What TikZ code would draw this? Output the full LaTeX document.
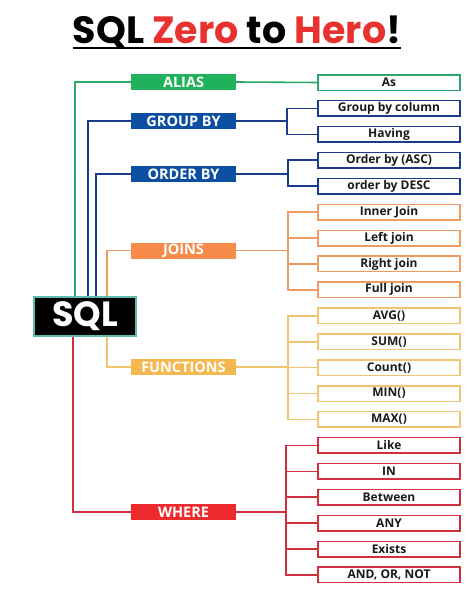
\documentclass[tikz,border=0pt]{standalone}
\usepackage{fontspec}
\newfontfamily\titlefont{Poppins}
\newfontfamily\bodyfont{Open Sans}
\definecolor{tred}{HTML}{E8322F}
\definecolor{gfill}{HTML}{1FB25A}
\definecolor{gline}{HTML}{2CA66A}
\definecolor{bfill}{HTML}{0C4EA2}
\definecolor{bline}{HTML}{1B3C8C}
\definecolor{ofill}{HTML}{F78B4A}
\definecolor{oline}{HTML}{EE9A62}
\definecolor{yfill}{HTML}{F5B84F}
\definecolor{yline}{HTML}{F2C470}
\definecolor{rfill}{HTML}{ED2B2E}
\definecolor{rline}{HTML}{D0303E}
\definecolor{sqlborder}{HTML}{5CBCB0}
\definecolor{leaftext}{HTML}{1A1A1A}
\tikzset{
  cat/.style={minimum width=105pt, minimum height=16pt, inner sep=0pt, text=white,
    font=\bodyfont\bfseries\fontsize{14.5}{14.5}\selectfont},
  leaf/.style={draw, fill=white, line width=1.5pt, minimum width=142pt, minimum height=15.5pt,
    inner sep=0pt, text=leaftext, font=\bodyfont\bfseries\fontsize{12}{12}\selectfont},
  conn/.style={line width=1.6pt},
}
\begin{document}
\begin{tikzpicture}[x=1pt,y=-1pt]
\useasboundingbox (0,0) rectangle (474,594);
% title
\node[anchor=base, inner sep=0pt, font=\titlefont\bfseries\fontsize{38}{40}\selectfont] (title) at (237,44)
  {SQL \textcolor{tred}{Zero} to \textcolor{tred}{Hero}!};
\draw[line width=1.5pt] ([yshift=-4pt]title.base west) -- ([yshift=-4pt]title.base east);
% SQL root
\node[draw=sqlborder, fill=black, line width=1.5pt, minimum width=102pt, minimum height=39pt, inner sep=0pt,
  text=white, font=\titlefont\bfseries\fontsize{35}{35}\selectfont] (sql) at (85,316.5) {SQL};
% categories
\node[cat, fill=gfill] (alias) at (183.5,82) {ALIAS};
\node[cat, fill=bfill] (grp) at (183.5,121) {GROUP BY};
\node[cat, fill=bfill] (ord) at (183.5,174) {ORDER BY};
\node[cat, fill=ofill] (joins) at (183.5,250.5) {JOINS};
\node[cat, fill=yfill] (func) at (183.5,367) {FUNCTIONS};
\node[cat, fill=rfill] (where) at (183.5,512) {WHERE};
% leaves
\def\ly#1{82.5+25.92*#1}
\node[leaf, draw=gline] (l0) at (389,{\ly{0}}) {As};
\node[leaf, draw=bline] (l1) at (389,{\ly{1}}) {Group by column};
\node[leaf, draw=bline] (l2) at (389,{\ly{2}}) {Having};
\node[leaf, draw=bline] (l3) at (389,{\ly{3}}) {Order by (ASC)};
\node[leaf, draw=bline] (l4) at (389,{\ly{4}}) {order by DESC};
\node[leaf, draw=oline] (l5) at (389,{\ly{5}}) {Inner Join};
\node[leaf, draw=oline] (l6) at (389,{\ly{6}}) {Left join};
\node[leaf, draw=oline] (l7) at (389,{\ly{7}}) {Right join};
\node[leaf, draw=oline] (l8) at (389,{\ly{8}}) {Full join};
\node[leaf, draw=yline] (l9) at (389,{\ly{9}}) {AVG()};
\node[leaf, draw=yline] (l10) at (389,{\ly{10}}) {SUM()};
\node[leaf, draw=yline] (l11) at (389,{\ly{11}}) {Count()};
\node[leaf, draw=yline] (l12) at (389,{\ly{12}}) {MIN()};
\node[leaf, draw=yline] (l13) at (389,{\ly{13}}) {MAX()};
\node[leaf, draw=rline] (l14) at (389,{\ly{14}}) {Like};
\node[leaf, draw=rline] (l15) at (389,{\ly{15}}) {IN};
\node[leaf, draw=rline] (l16) at (389,{\ly{16}}) {Between};
\node[leaf, draw=rline] (l17) at (389,{\ly{17}}) {ANY};
\node[leaf, draw=rline] (l18) at (389,{\ly{18}}) {Exists};
\node[leaf, draw=rline] (l19) at (389,{\ly{19}}) {AND, OR, NOT};
% left trunk coordinates
\coordinate (xa) at (75,0);
\coordinate (xg) at (88,0);
\coordinate (xo) at (96,0);
\coordinate (xj) at (107,0);
\coordinate (xw) at (73,0);
\draw[conn, gline] (xa |- sql.north) |- (alias.west);
\draw[conn, bline] (xg |- sql.north) |- (grp.west);
\draw[conn, bline] (xo |- sql.north) |- (ord.west);
\draw[conn, oline] (xj |- sql.north) |- (joins.west);
\draw[conn, yline] (xj |- sql.south) |- (func.west);
\draw[conn, rline] (xw |- sql.south) |- (where.west);
% right connections
\draw[conn, gline] (alias.east) -- (l0.west);
\coordinate (bg) at (287,0);
\coordinate (bo) at (288,0);
\coordinate (bj) at (288,0);
\coordinate (bf) at (288,0);
\coordinate (bw) at (286,0);
\draw[conn, bline] (grp.east) -- (grp.east -| bg);
\draw[conn, bline] (l1.west) -- (l1.west -| bg) -- (l2.west -| bg) -- (l2.west);
\draw[conn, bline] (ord.east) -- (ord.east -| bo);
\draw[conn, bline] (l3.west) -- (l3.west -| bo) -- (l4.west -| bo) -- (l4.west);
\draw[conn, oline] (joins.east) -- (joins.east -| bj);
\draw[conn, oline] (l5.west) -- (l5.west -| bj) -- (l8.west -| bj) -- (l8.west);
\foreach \i in {6,7} \draw[conn, oline] (l\i.west -| bj) -- (l\i.west);
\draw[conn, yline] (func.east) -- (func.east -| bf);
\draw[conn, yline] (l9.west) -- (l9.west -| bf) -- (l13.west -| bf) -- (l13.west);
\foreach \i in {10,11,12} \draw[conn, yline] (l\i.west -| bf) -- (l\i.west);
\draw[conn, rline] (where.east) -- (where.east -| bw);
\draw[conn, rline] (l14.west) -- (l14.west -| bw) -- (l19.west -| bw) -- (l19.west);
\foreach \i in {15,16,17,18} \draw[conn, rline] (l\i.west -| bw) -- (l\i.west);
\end{tikzpicture}
\end{document}
